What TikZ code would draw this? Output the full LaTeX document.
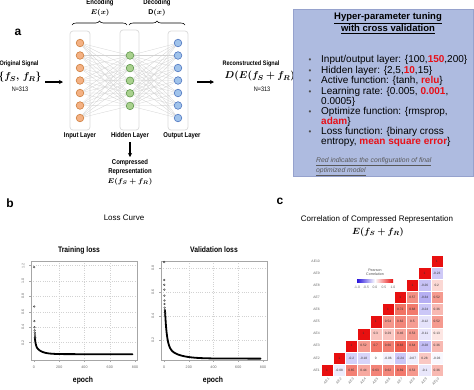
\documentclass[tikz,border=0pt]{standalone}
\usepackage{fontspec}
\setmainfont{Liberation Sans}
\usepackage{amsmath,bm}
\usepackage{graphicx}
\usetikzlibrary{decorations.pathreplacing,arrows.meta,calc}
\pgfdeclarelayer{background}
\pgfsetlayers{background,main}
\definecolor{hr}{RGB}{232,16,24}
\definecolor{hred}{RGB}{232,16,16}
\definecolor{hpos}{RGB}{236,60,40}
\definecolor{hblue}{RGB}{40,20,220}
\definecolor{boxblue}{RGB}{174,187,224}
\definecolor{boxedge}{RGB}{150,162,205}
\definecolor{orf}{RGB}{244,177,131}
\definecolor{ord}{RGB}{205,125,60}
\definecolor{grf}{RGB}{169,209,142}
\definecolor{grd}{RGB}{95,150,75}
\definecolor{blf}{RGB}{160,195,235}
\definecolor{bld}{RGB}{75,115,190}
\newcommand{\nw}[1]{\scalebox{0.85}[1]{#1}}
\newcommand{\fsz}[1]{\fontsize{#1}{#1}\selectfont}
\newcommand{\hcell}[3]{%
  \pgfmathsetmacro{\hx}{327+(#2-1)*12.2}%
  \pgfmathsetmacro{\hy}{370-(#1-1)*12.1}%
  \pgfmathsetmacro{\pct}{abs(#3)*100}%
  \pgfmathtruncatemacro{\isneg}{(#3<0)}%
  \pgfmathtruncatemacro{\isone}{(#3>0.99)}%
  \ifnum\isneg=1 \def\cc{hblue}\else\def\cc{hpos}\fi
  \ifnum\isone=1 \def\cc{hred}\fi
  \node[cellbox, fill=\cc!\pct!white] (c-#1-#2) at (\hx,\hy) {#3};%
}
\begin{document}
\begin{tikzpicture}[x=1pt,y=-1pt,
  panel/.style={font=\bfseries\fsz{12}},
  nnlab/.style={font=\bfseries\fsz{7}},
  layerbox/.style={draw=gray!30, rounded corners=3pt, line width=0.7pt, minimum width=20pt, minimum height=99pt, inner sep=0pt},
  neuron/.style={circle, minimum size=7.6pt, inner sep=0pt, line width=0.6pt},
  conn/.style={gray!35, line width=0.3pt},
  bigarrow/.style={-{Stealth[length=4pt,width=4pt]}, line width=1.1pt},
  hp/.style={anchor=base west, font=\fsz{10}, inner sep=0pt},
  hpbul/.style={anchor=base, font=\fsz{8}, text=black!70, inner sep=0pt},
  ticklab/.style={font=\fsz{3.6}, text=black!60, inner sep=0pt},
  gridl/.style={gray!35, dotted, line width=0.3pt},
  plotbox/.style={draw=gray!70, line width=0.6pt},
  cellbox/.style={draw=white, line width=0.3pt, minimum width=12.2pt, minimum height=12.1pt, inner sep=0pt, font=\fsz{3.2}, text=black!80},
  axlab/.style={font=\fsz{3.4}, text=black!60, inner sep=0pt}
]
\useasboundingbox (0,0) rectangle (474,389);

% ---------------- panel a ----------------
\node[panel] (la) at (18,32) {a};

\node[layerbox] (inbox) at (80,80.5) {};
\node[layerbox, minimum width=19pt, minimum height=100pt] (hidbox) at (129.5,80) {};
\node[layerbox] (outbox) at (178,80.5) {};

\foreach \k in {1,...,7} {
  \node[neuron, fill=orf, draw=ord] (i\k) at (80,{43+(\k-1)*12.5}) {};
  \node[neuron, fill=blf, draw=bld] (o\k) at (178,{43+(\k-1)*12.5}) {};
}
\foreach \k in {1,...,5} {
  \node[neuron, fill=grf, draw=grd] (h\k) at (130,{55.5+(\k-1)*12.6}) {};
}
\begin{pgfonlayer}{background}
\foreach \a in {1,...,7} {
  \foreach \b in {1,...,5} {
    \draw[conn] (i\a) -- (h\b);
    \draw[conn] (h\b) -- (o\a);
  }
}
\end{pgfonlayer}

\node[nnlab] (inlab) at (80,136) {\nw{Input Layer}};
\node[nnlab] (hidlab) at (130,136) {\nw{Hidden Layer}};
\node[nnlab] (outlab) at (182,136) {\nw{Output Layer}};

% braces
\coordinate (encL) at (72,25);
\coordinate (encR) at (127,25);
\coordinate (decL) at (129,25);
\coordinate (decR) at (185,25);
\draw[decorate, decoration={brace, amplitude=4pt}, line width=0.6pt] (encL) -- (encR);
\draw[decorate, decoration={brace, amplitude=4pt}, line width=0.6pt] (decL) -- (decR);
\node[nnlab] (enc) at (100,3) {\nw{Encoding}};
\node[font=\fsz{7}] (encm) at (100,13) {$\bm{E(x)}$};
\node[nnlab] (dec) at (157,3) {\nw{Decoding}};
\node[font=\fsz{7}] (decm) at (157,13) {$\mathbf{D}\bm{(x)}$};

% input signal
\node[nnlab, font=\bfseries\fsz{6.5}] (orig) at (19,64) {\nw{Original Signal}};
\node[font=\fsz{10}] (origm) at (20,77) {$\bm{\{f_S,\,f_R\}}$};
\node[font=\fsz{6.5}] (origN) at (20,89) {\nw{N=313}};
\coordinate (a1s) at (45,82);
\coordinate (a1e) at (63,82);
\draw[bigarrow] (a1s) -- (a1e);

% output signal
\coordinate (a2s) at (197,82);
\coordinate (a2e) at (214,82);
\draw[bigarrow] (a2s) -- (a2e);
\node[nnlab, font=\bfseries\fsz{6.5}] (rec) at (251,64) {\nw{Reconstructed Signal}};
\node[font=\fsz{10}] (recm) at (262,76) {$\bm{D(E(f_S+f_R))}$};
\node[font=\fsz{6.5}] (recN) at (262,89) {\nw{N=313}};

% compressed
\coordinate (a3s) at (130,142);
\coordinate (a3e) at (130,157);
\draw[bigarrow] (a3s) -- (a3e);
\node[nnlab] (comp1) at (130,163) {\nw{Compressed}};
\node[nnlab] (comp2) at (130,172) {\nw{Representation}};
\node[font=\fsz{7.5}] (compm) at (130,182) {$\bm{E(f_S+f_R)}$};

% hyper-parameter box
\node[draw=boxedge, fill=boxblue, line width=0.6pt, minimum width=180pt, minimum height=167pt, inner sep=0pt] (hpbox) at (383,92.5) {};
\node[font=\bfseries\fsz{9.5}] (hpt1) at (388,18) {\underline{Hyper-parameter tuning}};
\node[font=\bfseries\fsz{9.5}] (hpt2) at (388,29.5) {\underline{with cross validation}};
\foreach \yy [count=\n] in {62.5,73.5,83.5,94.5,114.5,134.5} {
  \node[hpbul] (bul\n) at (310,\yy) {\textbullet};
}
\node[hp] (hp1) at (321,62.5) {Input/output layer: \{100,\textcolor{hr}{\textbf{150}},200\}};
\node[hp] (hp2) at (321,73.5) {Hidden layer: \{2,5,\textcolor{hr}{\textbf{10}},15\}};
\node[hp] (hp3) at (321,83.5) {Active function: \{tanh, \textcolor{hr}{\textbf{relu}}\}};
\node[hp] (hp4) at (321,94.5) {Learning rate: \{0.005, \textcolor{hr}{\textbf{0.001}},};
\node[hp] (hp5) at (321,104.5) {0.0005\}};
\node[hp] (hp6) at (321,114.5) {Optimize function: \{rmsprop,};
\node[hp] (hp7) at (321,124.5) {\textcolor{hr}{\textbf{adam}}\}};
\node[hp] (hp8) at (321,134.5) {Loss function: \{binary cross};
\node[hp] (hp9) at (321,144.5) {entropy, \textcolor{hr}{\textbf{mean square error}}\}};
\node[hp, font=\itshape\fsz{6.8}, text=black!65] (hpn1) at (316,162.5) {\underline{Red indicates the configuration of final}};
\node[hp, font=\itshape\fsz{6.8}, text=black!65] (hpn2) at (316,172.5) {\underline{optimized model}};

% ---------------- panel b ----------------
\node[panel] (lb) at (10,203) {b};
\node[font=\fsz{8}] (losst) at (124,218) {Loss Curve};
\node[font=\bfseries\fsz{8}] (trt) at (79,250) {\nw{Training loss}};
\node[font=\bfseries\fsz{8}] (vat) at (214,250) {\nw{Validation loss}};
\node[font=\bfseries\fsz{8}] (trx) at (83,380) {\nw{epoch}};
\node[font=\bfseries\fsz{8}] (vax) at (213,380) {\nw{epoch}};

% training plot
\foreach \e in {200,400,600} \draw[gridl] ({34+0.12625*\e},261) -- ({34+0.12625*\e},360);
\foreach \v in {0.2,0.4,...,1.21} \draw[gridl] (31,{358-77*\v}) -- (137,{358-77*\v});
\draw[plotbox] (31,261) rectangle (137,360);
\foreach \e [count=\n] in {0,200,400,600,800} {
  \draw[gray!70, line width=0.3pt] ({34+0.12625*\e},360) -- ({34+0.12625*\e},362);
  \node[ticklab] (tx\n) at ({34+0.12625*\e},367) {\e};
}
\foreach \v/\t [count=\n] in {0.2/0.2,0.4/0.4,0.6/0.6,0.8/0.8,1.0/1.0,1.2/1.2} {
  \draw[gray!70, line width=0.3pt] (31,{358-77*\v}) -- (29,{358-77*\v});
  \node[ticklab, rotate=90] (ty\n) at (23,{358-77*\v}) {\t};
}
\draw[line width=1.8pt, line cap=round] plot[domain=6:780, samples=120, smooth] ({34+0.12625*\x},{358-77*(0.05+0.13*exp(-\x/45)+0.25*exp(-min(\x/7,14)))});
\foreach \e/\v in {1/1.18,2/0.67,3/0.48,4/0.40,5/0.36,6/0.33,7/0.31,8/0.29,9/0.27,10/0.26} {
  \draw[black!80, line width=0.35pt] ({34+0.12625*\e},{358-77*\v}) circle (0.9pt);
}

% validation plot
\foreach \e in {200,400,600} \draw[gridl] ({164+0.12375*\e},261) -- ({164+0.12375*\e},360);
\foreach \v in {0.2,0.4,0.6,0.8} \draw[gridl] (161,{364-120*\v}) -- (267,{364-120*\v});
\draw[plotbox] (161,261) rectangle (267,360);
\foreach \e [count=\n] in {0,200,400,600,800} {
  \draw[gray!70, line width=0.3pt] ({164+0.12375*\e},360) -- ({164+0.12375*\e},362);
  \node[ticklab] (vx\n) at ({164+0.12375*\e},367) {\e};
}
\foreach \v [count=\n] in {0.2,0.4,0.6,0.8} {
  \draw[gray!70, line width=0.3pt] (161,{364-120*\v}) -- (159,{364-120*\v});
  \node[ticklab, rotate=90] (vy\n) at (153,{364-120*\v}) {\v};
}
\draw[line width=1.8pt, line cap=round] plot[domain=8:780, samples=120, smooth] ({164+0.12375*\x},{364-120*(0.045+0.5*exp(-min(\x/15,14))+0.12*exp(-\x/90))});
\foreach \e/\v in {1/0.85,2/0.70,2.5/0.66,3/0.62,3.5/0.57,4/0.53,4.5/0.50,5/0.47,5.5/0.45,6/0.43,7/0.41} {
  \draw[black!80, line width=0.35pt] ({164+0.12375*\e},{364-120*\v}) circle (0.9pt);
}

% ---------------- panel c ----------------
\node[panel] (lc) at (280,201) {c};
\node[font=\fsz{8}] (ct1) at (377,219) {Correlation of Compressed Representation};
\node[font=\fsz{9}] (ct2) at (378,232) {$\bm{E(f_S+f_R)}$};

\foreach \r/\vals in {
  1/{1,-0.08,0.65,0.44,0.63,0.62,0.69,0.53,-0.1,0.36},
  2/{1,-0.2,-0.18,0,-0.06,-0.24,-0.07,0.28,-0.03},
  3/{1,0.52,0.7,0.66,0.83,0.64,-0.28,0.36},
  4/{1,0.3,0.29,0.46,0.53,-0.11,0.13},
  5/{1,0.54,0.62,0.5,-0.12,0.52},
  6/{1,0.72,0.68,-0.24,0.36},
  7/{1,0.57,-0.34,0.52},
  8/{1,-0.26,0.2},
  9/{1,-0.23},
  10/{1}} {
  \foreach \v [count=\k] in \vals {
    \pgfmathtruncatemacro{\cl}{\r+\k-1}
    \hcell{\r}{\cl}{\v}
  }
}
\foreach \r in {1,...,10} {
  \node[axlab, anchor=east] (rl\r) at (320,{370-(\r-1)*12.1}) {AE\r};
  \node[axlab, anchor=east, rotate=45] (cl\r) at ({329+(\r-1)*12.2},378.5) {AE\r};
}
% legend
\node[font=\fsz{3.6}, text=black!70, inner sep=0pt] (pl1) at (375,270) {Pearson};
\node[font=\fsz{3.6}, text=black!70, inner sep=0pt] (pl2) at (375,274.5) {Correlation};
\shade[left color=hblue, right color=hred, middle color=white] (357,279) rectangle (393,282.5);
\foreach \t [count=\k] in {-1.0,-0.5,0.0,0.5,1.0} {
  \node[axlab] (lg\k) at ({357+(\k-1)*9},287) {\t};
}
\end{tikzpicture}
\end{document}
